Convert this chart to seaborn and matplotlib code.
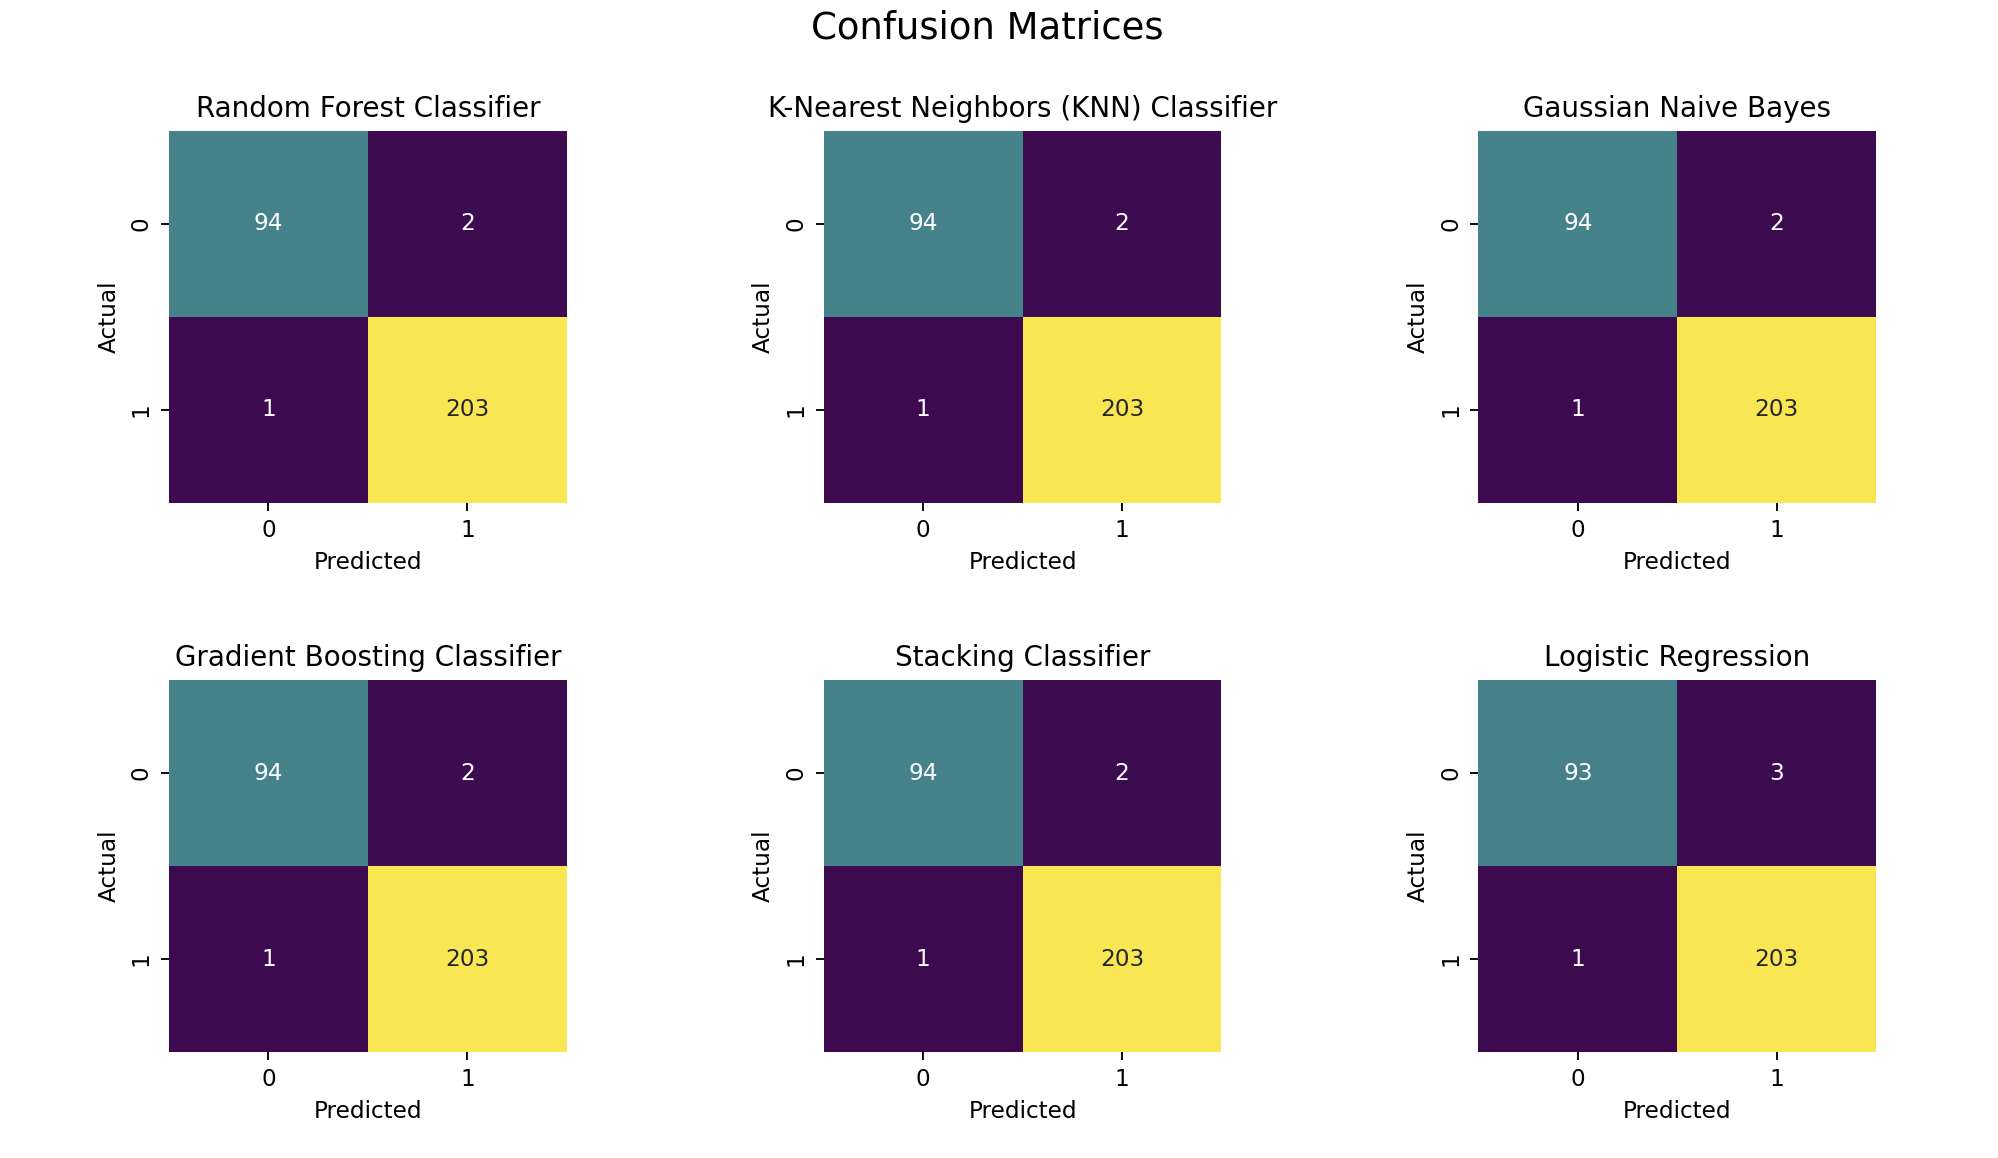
import numpy as np
import matplotlib
matplotlib.use("Agg")
import matplotlib.pyplot as plt
from matplotlib.colors import LinearSegmentedColormap
import seaborn as sns

models = ["Random Forest Classifier", "K-Nearest Neighbors (KNN) Classifier",
          "Gaussian Naive Bayes", "Gradient Boosting Classifier",
          "Stacking Classifier", "Logistic Regression"]
rf = [[94, 2], [1, 203]]
knn = [[94, 2], [1, 203]]
gnb = [[94, 2], [1, 203]]
gb = [[94, 2], [1, 203]]
stack = [[94, 2], [1, 203]]
lr = [[93, 3], [1, 203]]
matrices = [rf, knn, gnb, gb, stack, lr]
tick_labels = ["0", "1"]

cmap = LinearSegmentedColormap.from_list(
    "vir", [(0.0, "#3d0a4f"), (0.46, "#46828a"), (1.0, "#f8e652")])

DPI = 166.5
fig, axes = plt.subplots(2, 3, figsize=(1998/DPI, 1158/DPI), dpi=DPI)
fig.subplots_adjust(left=0.0846, right=0.939, bottom=0.0915, top=0.8869,
                    wspace=0.6456, hspace=0.476)

for ax, name, m in zip(axes.flat, models, matrices):
    sns.heatmap(np.array(m), annot=True, fmt="d", cmap=cmap, cbar=False,
                xticklabels=tick_labels, yticklabels=tick_labels, ax=ax,
                annot_kws={"fontsize": 10})
    ax.set_title(name, fontsize=12)
    ax.set_xlabel("Predicted", fontsize=10)
    ax.set_ylabel("Actual", fontsize=10)

fig.suptitle("Confusion Matrices", fontsize=16, x=0.494, y=0.976, va="center")
fig.savefig("out.png", dpi=DPI)
